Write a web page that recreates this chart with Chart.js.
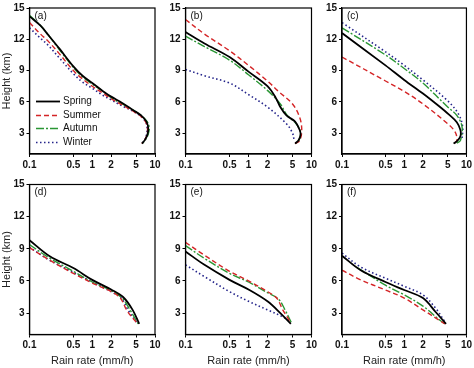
<!DOCTYPE html>
<html>
<head>
<meta charset="utf-8">
<script src="https://cdn.jsdelivr.net/npm/chart.js@4"></script>
<style>
  body { margin: 0; background: #fff; }
  #wrap { position: relative; width: 474px; height: 368px; }
  canvas { position: absolute; left: 0; top: 0; }
</style>
</head>
<body>
<div id="wrap">
  <canvas id="pa" width="474" height="368"></canvas>
  <canvas id="pb" width="474" height="368"></canvas>
  <canvas id="pc" width="474" height="368"></canvas>
  <canvas id="pd" width="474" height="368"></canvas>
  <canvas id="pe" width="474" height="368"></canvas>
  <canvas id="pf" width="474" height="368"></canvas>
</div>
<script>
// rain rate (mm/h), height (km)
const seasons = ['Spring', 'Summer', 'Autumn', 'Winter'];
const xTicks = [0.1, 0.5, 1, 2, 5, 10];
const yTicks = [3, 6, 9, 12, 15];

const a_spring = [[0.1,14.2],[0.15,13.3],[0.2,12.4],[0.3,11.1],[0.5,9.4],[0.7,8.5],[1,7.8],[1.5,7.0],[2,6.5],[3,5.9],[4.5,5.2],[6,4.7],[7.3,4.1],[7.8,3.5],[7.6,2.9],[7,2.4],[6.2,2.0]];
const a_summer = [[0.1,13.6],[0.15,12.5],[0.2,11.8],[0.3,10.6],[0.5,9.0],[0.7,8.2],[1,7.5],[1.5,6.8],[2,6.3],[3,5.7],[4.5,5.1],[6,4.6],[7.2,4.0],[7.6,3.4],[7.4,2.8],[6.8,2.3],[6.2,2.0]];
const a_autumn = [[0.1,14.3],[0.15,13.3],[0.2,12.4],[0.3,11.0],[0.5,9.3],[0.7,8.4],[1,7.7],[1.5,7.0],[2,6.4],[3,5.8],[4.5,5.2],[6,4.7],[7.5,4.1],[8.1,3.5],[7.8,2.9],[7.1,2.4],[6.3,2.0]];
const a_winter = [[0.1,13.1],[0.15,12.1],[0.2,11.4],[0.3,10.2],[0.5,8.7],[0.7,7.9],[1,7.3],[1.5,6.6],[2,6.2],[3,5.6],[4.5,5.1],[6,4.6],[7.2,4.0],[7.5,3.4],[7.3,2.8],[6.8,2.3],[6.2,2.0]];

const b_spring = [[0.1,12.7],[0.2,11.6],[0.5,10.3],[1,8.9],[2,7.5],[2.7,6.4],[3.2,5.5],[4,4.7],[5.5,4.1],[6.5,3.3],[6.7,2.8],[6.2,2.3],[5.5,2.0]];
const b_summer = [[0.1,13.9],[0.2,12.5],[0.5,10.9],[1,9.5],[2,8.0],[3,7.0],[5,5.8],[6.5,4.5],[7,3.3],[6.5,2.3],[5.5,2.0]];
const b_autumn = [[0.1,12.3],[0.2,11.3],[0.5,10.0],[1,8.6],[2,7.1],[3.2,5.8],[4,4.8],[5.7,3.9],[6.7,3.1],[6.2,2.2],[5.2,2.0]];
const b_winter = [[0.1,9.1],[0.2,8.5],[0.5,7.8],[1,6.7],[2,5.5],[4,3.9],[5,3.0],[5.3,2.3]];

const c_spring = [[0.1,12.6],[0.5,9.5],[1,8.1],[2,6.8],[3.6,5.6],[5.2,4.8],[7,4.05],[8,3.3],[8,2.7],[7,2.2],[6.2,2.0]];
const c_summer = [[0.1,10.3],[0.5,8.0],[1,7.0],[2,5.8],[5,3.9],[6.6,3.1],[7,2.3],[6.3,2.0]];
const c_autumn = [[0.1,13.1],[0.5,10.5],[1,9.2],[2,7.8],[5,5.5],[7,4.7],[8.5,3.6],[8,2.3],[6.8,2.0]];
const c_winter = [[0.1,13.6],[0.5,10.8],[1,9.5],[2,8.1],[5,6.1],[7.5,4.8],[8.7,3.6],[8.5,2.5]];

const d_spring = [[0.1,9.8],[0.21,8.3],[0.5,7.2],[1,6.1],[2,5.2],[3.1,4.5],[4.4,3.3],[5.6,2.0]];
const d_summer = [[0.1,9.1],[0.2,8.0],[0.5,6.7],[1,5.8],[2,5.0],[2.8,4.4],[3.6,3.2],[5.3,2.0]];
const d_autumn = [[0.1,9.4],[0.2,8.2],[0.5,6.9],[1,5.9],[2,5.1],[3,4.4],[4,3.3],[5.4,2.0]];
const d_winter = [[0.1,9.15],[0.2,8.0],[0.5,6.8],[1,5.9],[2,5.0],[2.9,4.4],[3.8,3.2],[5.3,2.0]];

const e_spring = [[0.1,8.75],[0.2,7.5],[0.5,6.1],[1,5.2],[2,4.1],[3.2,3.0],[4.7,2.0]];
const e_summer = [[0.1,9.6],[0.2,8.4],[0.5,6.9],[1,6.0],[2,5.0],[2.8,4.4],[3.5,3.3],[4.7,2.1]];
const e_autumn = [[0.1,9.3],[0.2,8.1],[0.5,6.7],[1,5.9],[2,4.9],[3,4.3],[3.8,3.3],[4.8,2.1]];
const e_winter = [[0.1,7.5],[0.2,6.4],[0.5,5.0],[1,4.1],[2,3.3],[3.5,2.65],[4.6,2.2]];

const f_spring = [[0.1,8.35],[0.2,7.0],[0.5,5.9],[1,5.15],[2,4.4],[3.2,3.1],[4.7,2.0]];
const f_summer = [[0.1,7.0],[0.2,6.1],[0.5,5.15],[1,4.4],[2,3.3],[3.6,2.35],[4.5,2.0]];
const f_autumn = [[0.17,7.3],[0.5,5.6],[1,4.7],[2,3.65],[3.8,2.3],[4.5,2.0]];
const f_winter = [[0.1,8.6],[0.2,7.3],[0.5,6.25],[1,5.5],[2,4.7],[3.2,3.45],[4.6,2.1]];

Chart.defaults.font.family = '"Liberation Sans", Arial, sans-serif';
Chart.defaults.color = '#111';

const looks = [
  { color: '#000000', width: 1.8, dash: [] },
  { color: '#d42426', width: 1.4, dash: [5, 3] },
  { color: '#2a9634', width: 1.4, dash: [8, 2, 2, 2] },
  { color: '#24248a', width: 1.6, dash: [1.5, 2.5] }
];

const cols = [[29.5, 155], [185.5, 311.5], [342, 467.5]];
const rows = [[5, 154], [184.5, 334.5]];

const framePlugin = {
  id: 'frame',
  afterDraw(chart, args, opts) {
    const a = chart.chartArea, ctx = chart.ctx;
    ctx.save();
    ctx.strokeStyle = '#000';
    ctx.lineWidth = 1.2;
    ctx.strokeRect(a.left, a.top, a.right - a.left, a.bottom - a.top);
    ctx.fillStyle = '#111';
    ctx.font = '10px "Liberation Sans", Arial, sans-serif';
    ctx.textBaseline = 'middle';
    ctx.fillText(opts.label, a.left + 5, a.top + 8);
    if (opts.legend) {
      const ys = [101.5, 115.5, 128.5, 142.5];
      chart.data.datasets.forEach((ds, i) => {
        ctx.strokeStyle = ds.borderColor;
        ctx.lineWidth = ds.borderWidth;
        ctx.setLineDash(ds.borderDash);
        ctx.beginPath();
        ctx.moveTo(36, ys[i]);
        ctx.lineTo(60, ys[i]);
        ctx.stroke();
        ctx.setLineDash([]);
        ctx.fillText(ds.label, 63, ys[i]);
      });
    }
    ctx.restore();
  }
};

function panel(id, label, series, col, row, legend) {
  const [left, right] = cols[col];
  const [top, bottom] = rows[row];
  const yTitle = col === 0;
  const xTitle = row === 1;
  const yW = yTitle ? 29.5 : 20;
  const xH = xTitle ? 33.5 : 16;
  new Chart(document.getElementById(id), {
    type: 'scatter',
    data: {
      datasets: series.map((pts, i) => ({
        label: seasons[i],
        data: pts.map(p => ({ x: p[0], y: p[1] })),
        showLine: true,
        borderColor: looks[i].color,
        borderWidth: looks[i].width,
        borderDash: looks[i].dash,
        pointRadius: 0,
        tension: 0.35,
        fill: false
      }))
    },
    options: {
      responsive: false,
      animation: false,
      devicePixelRatio: 1,
      layout: { padding: { left: left - yW, right: 474 - right, top: top, bottom: 368 - bottom - xH } },
      plugins: {
        legend: { display: false },
        tooltip: { enabled: false },
        frame: { label: label, legend: legend }
      },
      scales: {
        x: {
          type: 'logarithmic',
          min: 0.1,
          max: 10,
          afterBuildTicks: s => { s.ticks = xTicks.map(v => ({ value: v })); },
          afterFit: s => { s.height = xH; },
          ticks: {
            autoSkip: false,
            maxRotation: 0,
            padding: 2,
            font: { size: 10, weight: 'bold' },
            callback: v => String(v)
          },
          grid: { drawOnChartArea: false, tickLength: 3, color: '#000' },
          border: { color: '#000', width: 1.2 },
          title: { display: xTitle, text: 'Rain rate (mm/h)', font: { size: 11 }, padding: 0, color: '#222' }
        },
        y: {
          min: 1,
          max: 15,
          afterBuildTicks: s => { s.ticks = yTicks.map(v => ({ value: v })); },
          afterFit: s => { s.width = yW; },
          ticks: { padding: 2, font: { size: 10, weight: 'bold' } },
          grid: { drawOnChartArea: false, tickLength: 3, color: '#000' },
          border: { color: '#000', width: 1.2 },
          title: { display: yTitle, text: 'Height (km)', font: { size: 11 }, padding: 0, color: '#222' }
        }
      }
    },
    plugins: [framePlugin]
  });
}

panel('pa', '(a)', [a_spring, a_summer, a_autumn, a_winter], 0, 0, true);
panel('pb', '(b)', [b_spring, b_summer, b_autumn, b_winter], 1, 0, false);
panel('pc', '(c)', [c_spring, c_summer, c_autumn, c_winter], 2, 0, false);
panel('pd', '(d)', [d_spring, d_summer, d_autumn, d_winter], 0, 1, false);
panel('pe', '(e)', [e_spring, e_summer, e_autumn, e_winter], 1, 1, false);
panel('pf', '(f)', [f_spring, f_summer, f_autumn, f_winter], 2, 1, false);
</script>
</body>
</html>
